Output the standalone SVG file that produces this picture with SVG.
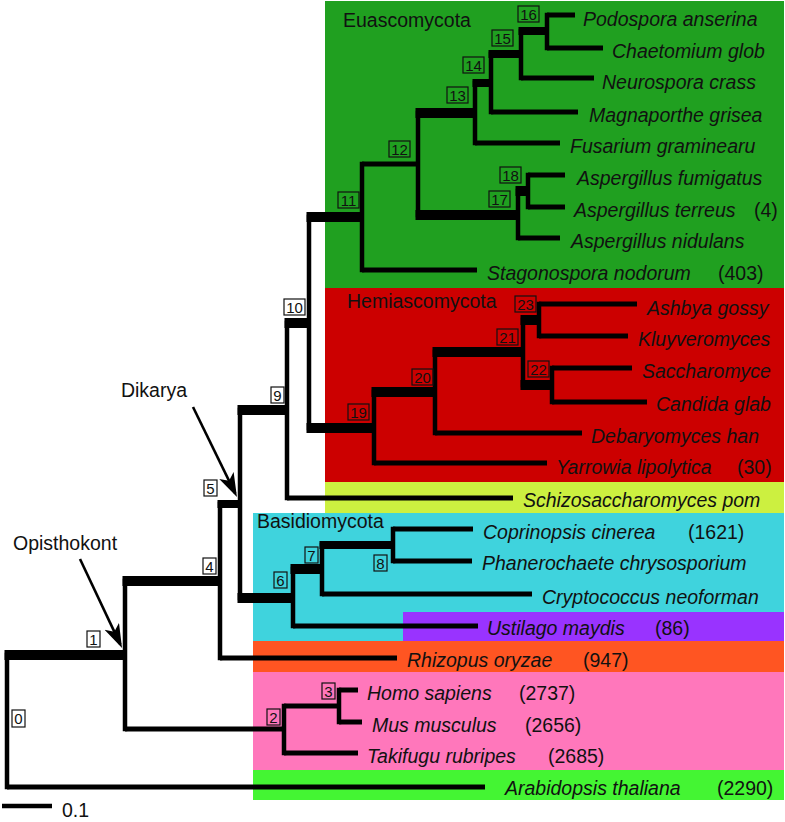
<svg xmlns="http://www.w3.org/2000/svg" width="785" height="822" viewBox="0 0 785 822">
<style>
.sp{font-family:"Liberation Sans",Arial,sans-serif;font-style:italic;font-size:19.5px;fill:#111}
.ct{font-family:"Liberation Sans",Arial,sans-serif;font-size:19.5px;fill:#111}
.nl rect{fill:none;stroke:#111;stroke-width:1.2}
.nl.w rect{fill:#fff}
.nl text{font-family:"Liberation Sans",Arial,sans-serif;font-size:15px;fill:#111;text-anchor:middle}
.v{stroke:#000;stroke-width:4.5;stroke-linecap:square;fill:none}
.h{stroke:#000;stroke-width:5;fill:none}
.t{stroke:#000;stroke-width:10;fill:none}
.t8{stroke:#000;stroke-width:8;fill:none}
.arr{stroke:#000;stroke-width:2.6;fill:none;marker-end:url(#ah)}
</style>
<defs>
<marker id="ah" markerUnits="userSpaceOnUse" markerWidth="26" markerHeight="18" refX="20" refY="8" orient="auto">
<path d="M0,0 L24,8 L0,16 L6,8 Z" fill="#000"/>
</marker>
</defs>
<rect width="785" height="822" fill="#fff"/>
<g id="clades">
<rect x="325" y="1" width="459" height="287" fill="#20a020"/>
<rect x="325" y="288" width="459" height="194" fill="#cc0000"/>
<rect x="325" y="482" width="459" height="31" fill="#ccf040"/>
<rect x="253" y="513" width="531" height="128" fill="#3fd3dd"/>
<rect x="403" y="612" width="381" height="29" fill="#9933ff"/>
<rect x="253" y="641" width="531" height="31" fill="#ff5522"/>
<rect x="253" y="672" width="531" height="98" fill="#ff77bb"/>
<rect x="253" y="770" width="531" height="30" fill="#44f533"/>
<text class="ct" x="343" y="27">Euascomycota</text>
<text class="ct" x="347" y="308">Hemiascomycota</text>
<text class="ct" x="257" y="528">Basidiomycota</text>
</g>
<g id="connectors">
<path class="v" d="M7,655V787 M125,581V729 M220,504V658 M240,410V598 M287,323V498 M309,217V428 M362,164V270 M418,113V215 M475,83V143 M491,54V112 M521,31V78 M547,15V48 M518,191V238 M528,175V207 M374,392V463 M435,352V433 M523,320V385 M539,304V336 M552,368V402 M293,569V626 M322,545V594 M393,529V561 M284,706V753 M339,690V722"/>
<path class="t" d="M4.5,655H125 M122.5,581H220 M237.5,410H287 M237.5,598H293 M284.5,323H309 M306.5,217H362 M306.5,428H374 M415.5,113H475 M415.5,215H518 M515.5,191H528 M371.5,392H435 M432.5,352H523 M520.5,320H539 M520.5,385H552 M290.5,569H322"/>
<path class="t8" d="M217.5,504H240 M472.5,83H491 M488.5,54H521 M518.5,31H547 M319.5,545H393"/>
<path class="h" d="M7,787H485 M125,729H284 M220,658H397 M287,498H513 M362,164H418 M362,270H477 M475,143H560 M491,112H578 M521,78H594 M547,15H575 M547,48H603 M518,238H560 M528,175H565 M528,207H565 M374,463H547 M435,433H582 M539,304H637 M539,336H628 M552,368H632 M552,402H647 M293,626H478 M322,594H532 M393,529H473 M393,561H472 M284,706H339 M284,753H358 M339,690H358 M339,722H362"/>
<line class="arr" x1="80" y1="559" x2="120.3" y2="644.4"/>
<line class="arr" x1="193" y1="407" x2="235.2" y2="493.4"/>
<line x1="2" y1="806" x2="52" y2="806" stroke="#000" stroke-width="4.5"/>
</g>
<g id="annotations">
<text class="ct" x="13" y="550">Opisthokont</text>
<text class="ct" x="187" y="397" text-anchor="end">Dikarya</text>
<text class="ct" x="62" y="817">0.1</text>
</g>
<g id="internal-nodes">
<g id="n0" class="nl w"><rect x="12" y="710" width="13" height="17"/><text x="18.5" y="724">0</text></g>
<g id="n1" class="nl w"><rect x="87" y="631" width="13" height="16"/><text x="93.5" y="645">1</text></g>
<g id="n2" class="nl"><rect x="267" y="709" width="13" height="16"/><text x="273.5" y="723">2</text></g>
<g id="n3" class="nl"><rect x="322" y="683" width="13" height="16"/><text x="328.5" y="697">3</text></g>
<g id="n4" class="nl w"><rect x="203" y="558" width="13" height="16"/><text x="209.5" y="572">4</text></g>
<g id="n5" class="nl w"><rect x="204" y="480" width="13" height="16"/><text x="210.5" y="494">5</text></g>
<g id="n6" class="nl"><rect x="274" y="572" width="13" height="16"/><text x="280.5" y="586">6</text></g>
<g id="n7" class="nl"><rect x="305" y="547" width="13" height="16"/><text x="311.5" y="561">7</text></g>
<g id="n8" class="nl"><rect x="374" y="555" width="13" height="16"/><text x="380.5" y="569">8</text></g>
<g id="n9" class="nl w"><rect x="271" y="387" width="13" height="16"/><text x="277.5" y="401">9</text></g>
<g id="n10" class="nl w"><rect x="284" y="299" width="21" height="16"/><text x="294.5" y="313">10</text></g>
<g id="n11" class="nl"><rect x="338" y="192" width="21" height="16"/><text x="348.5" y="206">11</text></g>
<g id="n12" class="nl"><rect x="389" y="141" width="21" height="16"/><text x="399.5" y="155">12</text></g>
<g id="n13" class="nl"><rect x="447" y="87" width="21" height="16"/><text x="457.5" y="101">13</text></g>
<g id="n14" class="nl"><rect x="463" y="57" width="21" height="16"/><text x="473.5" y="71">14</text></g>
<g id="n15" class="nl"><rect x="492" y="30" width="21" height="16"/><text x="502.5" y="44">15</text></g>
<g id="n16" class="nl"><rect x="518" y="6" width="21" height="16"/><text x="528.5" y="20">16</text></g>
<g id="n17" class="nl"><rect x="489" y="191" width="21" height="16"/><text x="499.5" y="205">17</text></g>
<g id="n18" class="nl"><rect x="500" y="167" width="21" height="16"/><text x="510.5" y="181">18</text></g>
<g id="n19" class="nl"><rect x="348" y="404" width="21" height="16"/><text x="358.5" y="418">19</text></g>
<g id="n20" class="nl"><rect x="412" y="369" width="21" height="16"/><text x="422.5" y="383">20</text></g>
<g id="n21" class="nl"><rect x="497" y="329" width="21" height="16"/><text x="507.5" y="343">21</text></g>
<g id="n22" class="nl"><rect x="528" y="361" width="21" height="16"/><text x="538.5" y="375">22</text></g>
<g id="n23" class="nl"><rect x="515" y="296" width="21" height="16"/><text x="525.5" y="310">23</text></g>
</g>
<g id="leaves">
<g id="podospora"><text class="sp" x="583" y="26">Podospora anserina</text></g>
<g id="chaetomium"><text class="sp" x="612" y="58">Chaetomium glob</text></g>
<g id="neurospora"><text class="sp" x="602" y="89">Neurospora crass</text></g>
<g id="magnaporthe"><text class="sp" x="589" y="122">Magnaporthe grisea</text></g>
<g id="fusarium"><text class="sp" x="570" y="153">Fusarium graminearu</text></g>
<g id="afumigatus"><text class="sp" x="577" y="185">Aspergillus fumigatus</text></g>
<g id="aterreus"><text class="sp" x="574" y="217">Aspergillus terreus</text><text class="ct" x="754" y="217">(4)</text></g>
<g id="anidulans"><text class="sp" x="571" y="248">Aspergillus nidulans</text></g>
<g id="stagonospora"><text class="sp" x="487" y="280">Stagonospora nodorum</text><text class="ct" x="718" y="280">(403)</text></g>
<g id="ashbya"><text class="sp" x="647" y="315">Ashbya gossy</text></g>
<g id="kluyveromyces"><text class="sp" x="638" y="346">Kluyveromyces</text></g>
<g id="saccharomyces"><text class="sp" x="642" y="378">Saccharomyce</text></g>
<g id="candida"><text class="sp" x="656" y="411">Candida glab</text></g>
<g id="debaryomyces"><text class="sp" x="591" y="443">Debaryomyces han</text></g>
<g id="yarrowia"><text class="sp" x="556" y="474">Yarrowia lipolytica</text><text class="ct" x="737" y="474">(30)</text></g>
<g id="schizo"><text class="sp" x="523" y="507">Schizosaccharomyces pom</text></g>
<g id="coprinopsis"><text class="sp" x="483" y="539">Coprinopsis cinerea</text><text class="ct" x="688" y="539">(1621)</text></g>
<g id="phanerochaete"><text class="sp" x="482" y="570">Phanerochaete chrysosporium</text></g>
<g id="cryptococcus"><text class="sp" x="542" y="604">Cryptococcus neoforman</text></g>
<g id="ustilago"><text class="sp" x="487" y="635">Ustilago maydis</text><text class="ct" x="655" y="635">(86)</text></g>
<g id="rhizopus"><text class="sp" x="407" y="667">Rhizopus oryzae</text><text class="ct" x="583" y="667">(947)</text></g>
<g id="homo"><text class="sp" x="367" y="700">Homo sapiens</text><text class="ct" x="519" y="700">(2737)</text></g>
<g id="mus"><text class="sp" x="372" y="732">Mus musculus</text><text class="ct" x="525" y="732">(2656)</text></g>
<g id="takifugu"><text class="sp" x="367" y="763">Takifugu rubripes</text><text class="ct" x="548" y="763">(2685)</text></g>
<g id="arabidopsis"><text class="sp" x="505" y="795">Arabidopsis thaliana</text><text class="ct" x="717" y="795">(2290)</text></g>
</g>
</svg>
